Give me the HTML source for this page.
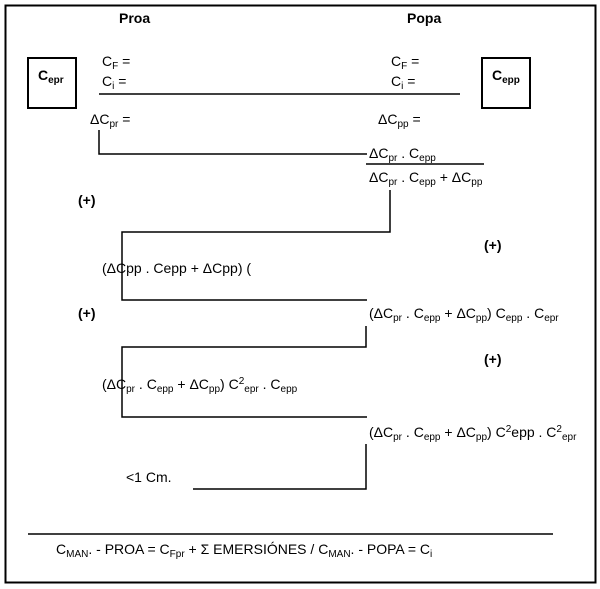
<!DOCTYPE html>
<html><head><meta charset="utf-8"><style>
body{margin:0;width:600px;height:589px;background:#fff;position:relative;font-family:"Liberation Sans",sans-serif;color:#000;overflow:hidden}
.t{position:absolute;font-size:14px;white-space:nowrap;line-height:1}
.b{font-weight:bold}
sub{font-size:10px;vertical-align:-3px}
sup{font-size:10px;vertical-align:5px}
</style></head><body>
<svg width="600" height="589" style="position:absolute;left:0;top:0">
<g stroke="#000" fill="none">
<rect x="5.5" y="5.5" width="590" height="577" stroke-width="2"/>
<rect x="28" y="58" width="48" height="50" stroke-width="2"/>
<rect x="482" y="58" width="48" height="50" stroke-width="2"/>
<g stroke-width="1.5">
<line x1="99" y1="94" x2="460" y2="94"/>
<polyline points="99,130 99,154 367,154"/>
<line x1="366" y1="164" x2="484" y2="164"/>
<polyline points="390,190 390,232 122,232 122,300 367,300"/>
<polyline points="366,326 366,347 122,347 122,417 367,417"/>
<polyline points="366,444 366,489 193,489"/>
<line x1="28" y1="534" x2="553" y2="534"/>
</g></g></svg>
<div class="t b" style="left:119px;top:11px">Proa</div>
<div class="t b" style="left:407px;top:11px">Popa</div>
<div class="t b" style="left:38px;top:68px">C<sub>epr</sub></div>
<div class="t b" style="left:492px;top:68px">C<sub>epp</sub></div>
<div class="t" style="left:102px;top:54px">C<sub>F</sub> =</div>
<div class="t" style="left:102px;top:74px">C<sub>i</sub> =</div>
<div class="t" style="left:391px;top:54px">C<sub>F</sub> =</div>
<div class="t" style="left:391px;top:74px">C<sub>i</sub> =</div>
<div class="t" style="left:90px;top:112px">ΔC<sub>pr</sub> =</div>
<div class="t" style="left:378px;top:112px">ΔC<sub>pp</sub> =</div>
<div class="t" style="left:369px;top:146px">ΔC<sub>pr</sub> . C<sub>epp</sub></div>
<div class="t" style="left:369px;top:170px">ΔC<sub>pr</sub> . C<sub>epp</sub> + ΔC<sub>pp</sub></div>
<div class="t b" style="left:78px;top:193px">(+)</div>
<div class="t b" style="left:484px;top:238px">(+)</div>
<div class="t" style="left:102px;top:261px">(ΔCpp . Cepp + ΔCpp) (</div>
<div class="t b" style="left:78px;top:306px">(+)</div>
<div class="t" style="left:369px;top:306px">(ΔC<sub>pr</sub> . C<sub>epp</sub> + ΔC<sub>pp</sub>) C<sub>epp</sub> . C<sub>epr</sub></div>
<div class="t b" style="left:484px;top:352px">(+)</div>
<div class="t" style="left:102px;top:377px">(ΔC<sub>pr</sub> . C<sub>epp</sub> + ΔC<sub>pp</sub>) C<sup>2</sup><sub>epr</sub> . C<sub>epp</sub></div>
<div class="t" style="left:369px;top:425px">(ΔC<sub>pr</sub> . C<sub>epp</sub> + ΔC<sub>pp</sub>) C<sup>2</sup>epp . C<sup>2</sup><sub>epr</sub></div>
<div class="t" style="left:126px;top:470px">&lt;1 Cm.</div>
<div class="t" style="left:56px;top:542px">C<sub>MAN</sub>. - PROA = C<sub>Fpr</sub> + Σ EMERSIÓNES / C<sub>MAN</sub>. - POPA = C<sub>i</sub></div>
</body></html>
